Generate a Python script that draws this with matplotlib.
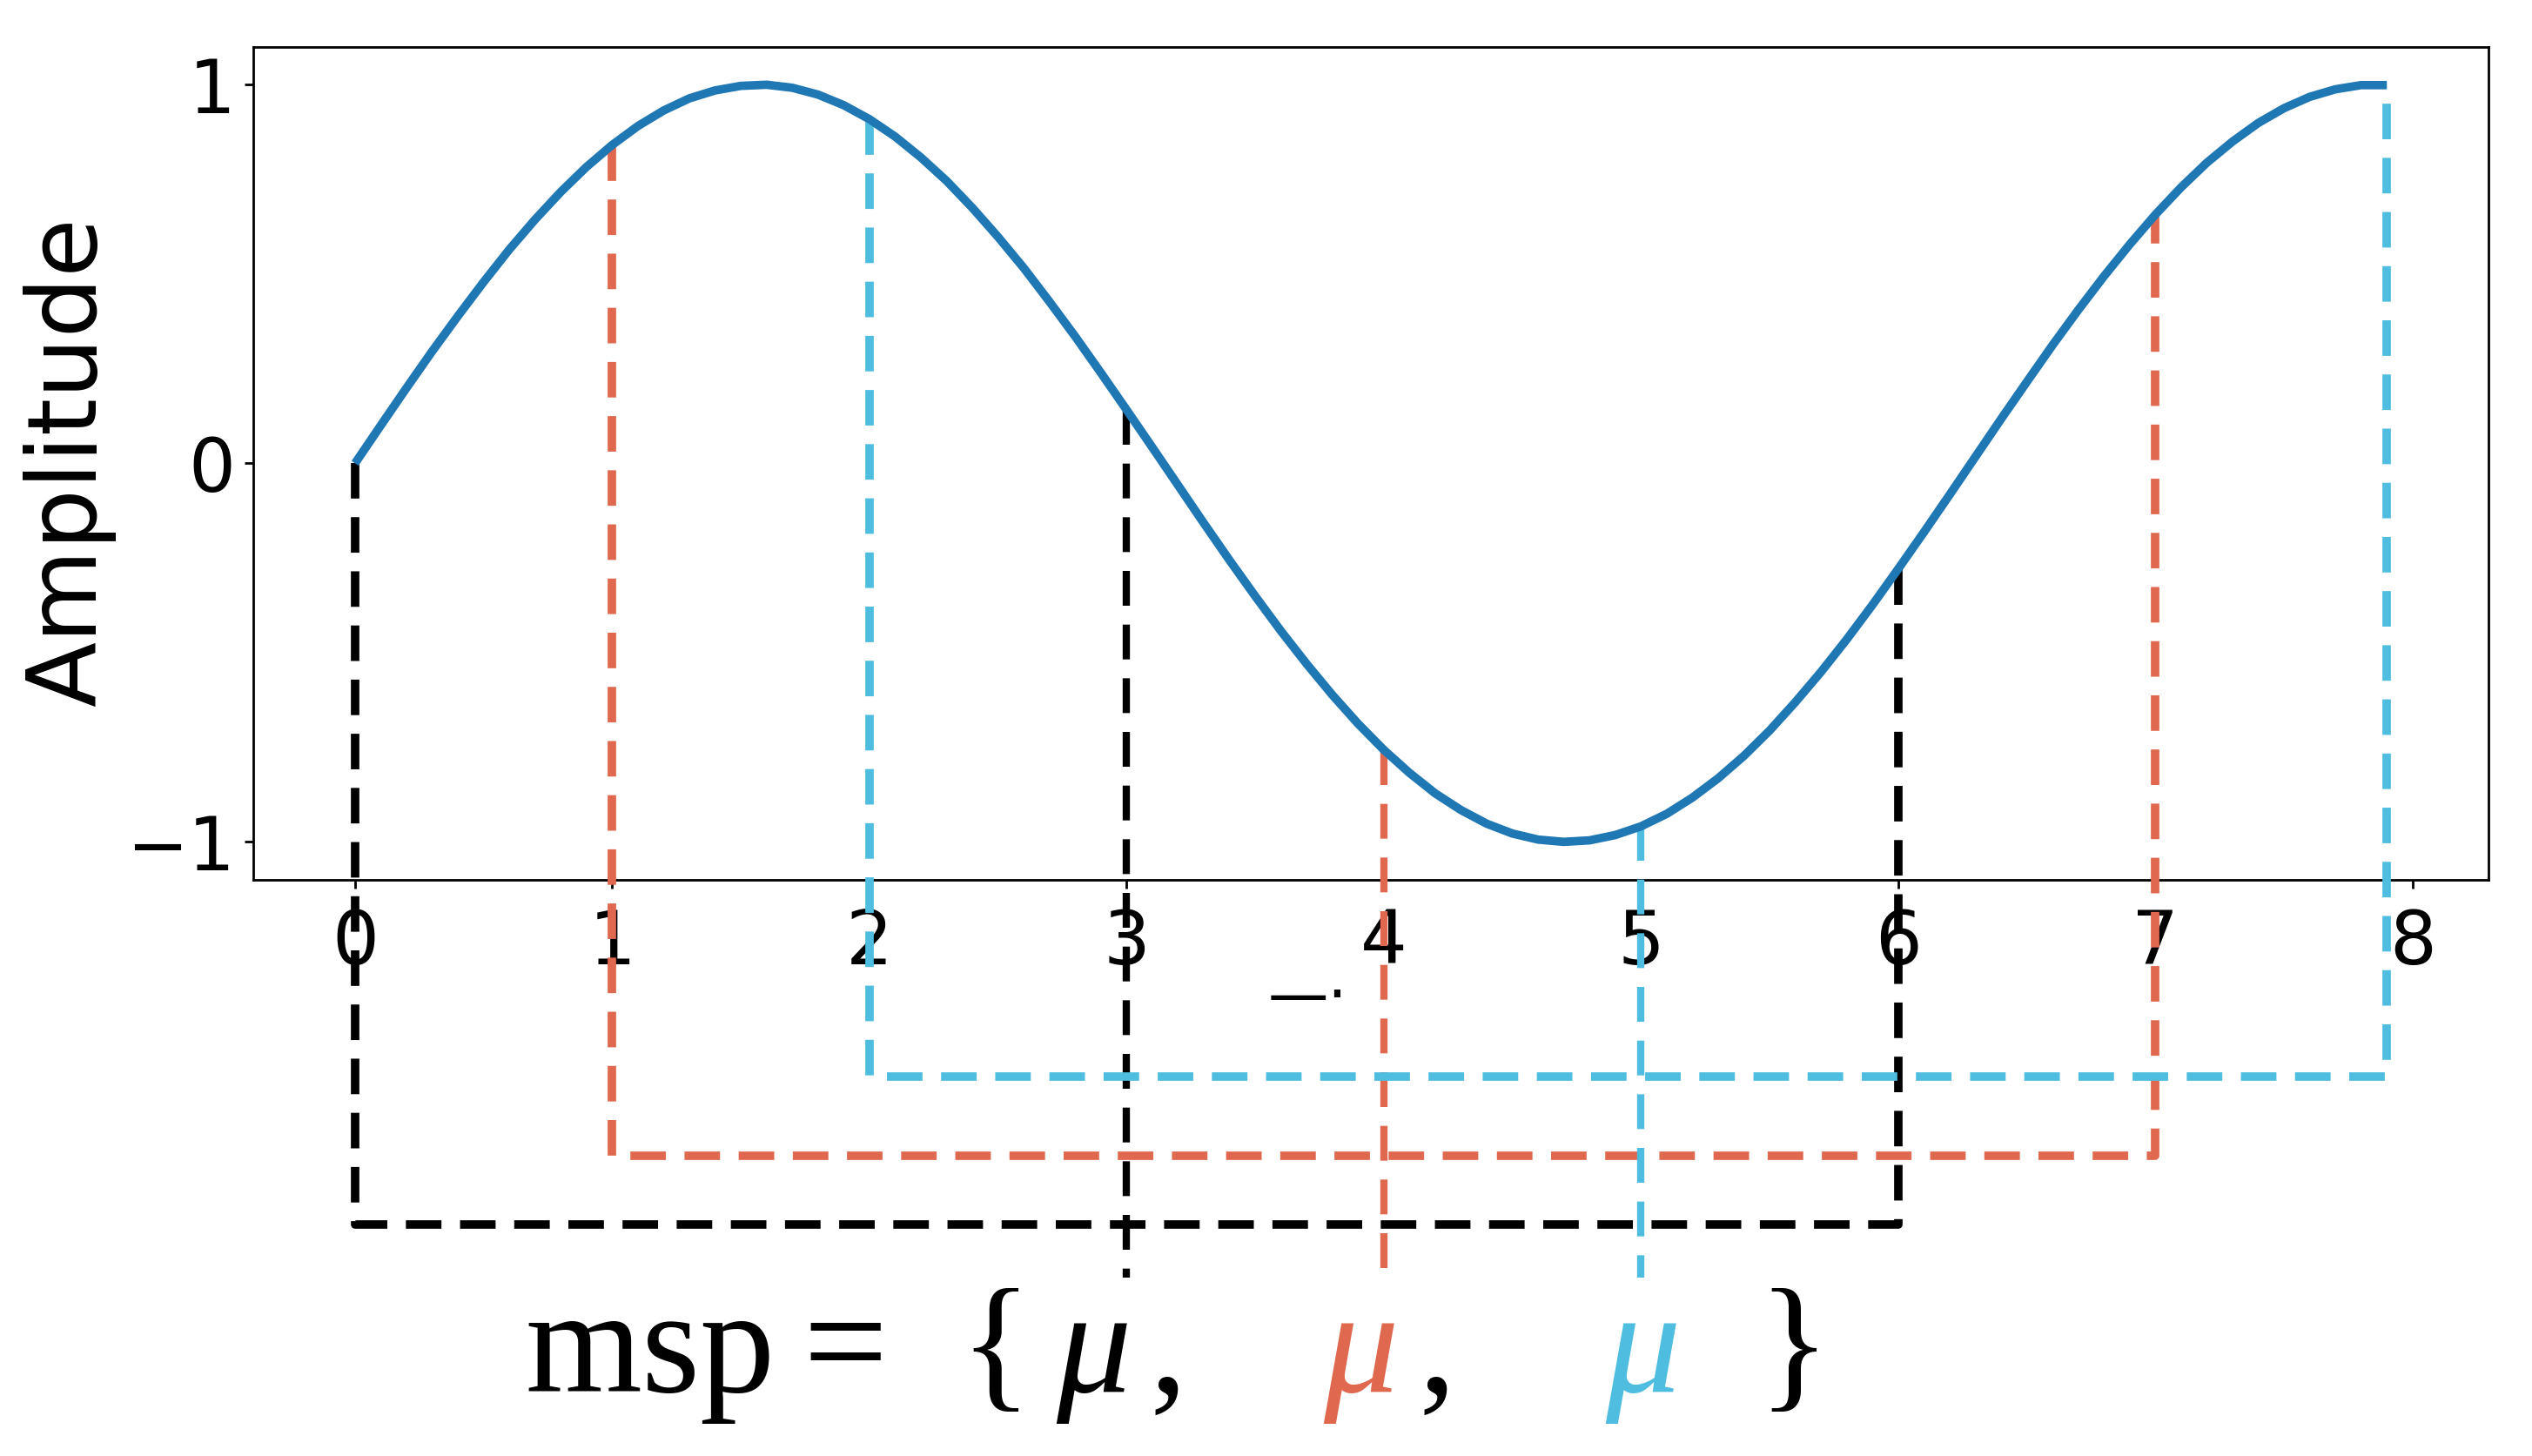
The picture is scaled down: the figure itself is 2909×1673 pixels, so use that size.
import numpy as np
import matplotlib
matplotlib.use('Agg')
import matplotlib.pyplot as plt

# curve values (step 0.1)
x_curve = [0.0, 0.1, 0.2, 0.3, 0.4, 0.5, 0.6, 0.7, 0.8, 0.9,
           1.0, 1.1, 1.2, 1.3, 1.4, 1.5, 1.6, 1.7, 1.8, 1.9,
           2.0, 2.1, 2.2, 2.3, 2.4, 2.5, 2.6, 2.7, 2.8, 2.9,
           3.0, 3.1, 3.2, 3.3, 3.4, 3.5, 3.6, 3.7, 3.8, 3.9,
           4.0, 4.1, 4.2, 4.3, 4.4, 4.5, 4.6, 4.7, 4.8, 4.9,
           5.0, 5.1, 5.2, 5.3, 5.4, 5.5, 5.6, 5.7, 5.8, 5.9,
           6.0, 6.1, 6.2, 6.3, 6.4, 6.5, 6.6, 6.7, 6.8, 6.9,
           7.0, 7.1, 7.2, 7.3, 7.4, 7.5, 7.6, 7.7, 7.8, 7.9]
y_curve = [0.000, 0.100, 0.199, 0.296, 0.389, 0.479, 0.565, 0.644, 0.717, 0.783,
           0.841, 0.891, 0.932, 0.964, 0.985, 0.997, 1.000, 0.992, 0.974, 0.946,
           0.909, 0.863, 0.808, 0.746, 0.675, 0.598, 0.516, 0.427, 0.335, 0.239,
           0.141, 0.042, -0.058, -0.158, -0.256, -0.351, -0.443, -0.530, -0.612, -0.688,
           -0.757, -0.818, -0.872, -0.916, -0.952, -0.978, -0.994, -1.000, -0.996, -0.982,
           -0.959, -0.926, -0.883, -0.832, -0.773, -0.706, -0.631, -0.551, -0.465, -0.374,
           -0.279, -0.182, -0.083, 0.017, 0.117, 0.215, 0.312, 0.405, 0.494, 0.578,
           0.657, 0.729, 0.794, 0.850, 0.899, 0.938, 0.968, 0.988, 0.999, 0.999]

# three interleaved sample groups: sample x and value there
black_x = [0, 3, 6];   black_y = [0.000, 0.141, -0.279]
orange_x = [1, 4, 7];  orange_y = [0.841, -0.757, 0.657]
cyan_x = [2, 5, 7.9];  cyan_y = [0.909, -0.959, 0.999]

# bracket level and end of the middle drop line (data units, below axis)
black_level, black_drop = -2.01, -2.15
orange_level, orange_drop = -1.83, -2.17
cyan_level, cyan_drop = -1.62, -2.15

xticks = [0, 1, 2, 3, 4, 5, 6, 7, 8]
yticks = [-1, 0, 1]
yticklabels = ['\u22121', '0', '1']

c_curve = '#1f77b4'
c_black = '#000000'
c_orange = '#E0684E'
c_cyan = '#4EBDE0'

fig = plt.figure(figsize=(29.09, 16.73), dpi=100)
ax = fig.add_axes([0.1001, 0.3958, 0.8827, 0.5720])

ax.plot(x_curve, y_curve, color=c_curve, lw=7, zorder=4,
        solid_joinstyle='round', solid_capstyle='butt')

def bracket(xs, ys, level, drop, col):
    ax.plot([xs[0], xs[0], xs[2], xs[2]], [ys[0], level, level, ys[2]],
            color=col, lw=7, ls='--', dashes=(4.2, 2.2), clip_on=False, zorder=3)
    ax.plot([xs[1], xs[1]], [ys[1], drop], color=col, lw=6, ls='--',
            dashes=(4.8, 2.6), clip_on=False, zorder=3)

bracket(black_x, black_y, black_level, black_drop, c_black)
bracket(orange_x, orange_y, orange_level, orange_drop, c_orange)
bracket(cyan_x, cyan_y, cyan_level, cyan_drop, c_cyan)

ax.set_xlim(-0.395, 8.295)
ax.set_ylim(-1.1, 1.1)
ax.set_xticks(xticks)
ax.set_yticks(yticks)
ax.set_yticklabels(yticklabels)
ax.tick_params(axis='both', labelsize=61, length=7, width=2)
ax.tick_params(axis='x', pad=16)
ax.tick_params(axis='y', pad=8)
for s in ax.spines.values():
    s.set_linewidth(2)

fig.text(0.0274, 0.683, 'Amplitude', rotation=90, ha='center', va='center',
         fontsize=79)

# small stray label under the axis
fig.text(0.5006, 0.315, '\u2014\u00b7', ha='left', va='center', fontsize=50)

# formula at the bottom
ff = 'Liberation Serif'
fs = 124
yb = 0.044
fig.text(0.2073, yb, 'msp', family=ff, fontsize=fs, va='baseline')
fig.text(0.3170, yb, '=', family=ff, fontsize=fs, va='baseline')
fig.text(0.3790, yb, '{', family=ff, fontsize=fs, va='baseline')
fig.text(0.4170, yb, '\u03bc', family=ff, style='italic', fontsize=fs,
         va='baseline', color=c_black)
fig.text(0.4540, yb, ',', family=ff, fontsize=fs, va='baseline')
fig.text(0.5225, yb, '\u03bc', family=ff, style='italic', fontsize=fs,
         va='baseline', color=c_orange)
fig.text(0.5600, yb, ',', family=ff, fontsize=fs, va='baseline')
fig.text(0.6340, yb, '\u03bc', family=ff, style='italic', fontsize=fs,
         va='baseline', color=c_cyan)
fig.text(0.6940, yb, '}', family=ff, fontsize=fs, va='baseline')

fig.savefig('out.png', dpi=100)
